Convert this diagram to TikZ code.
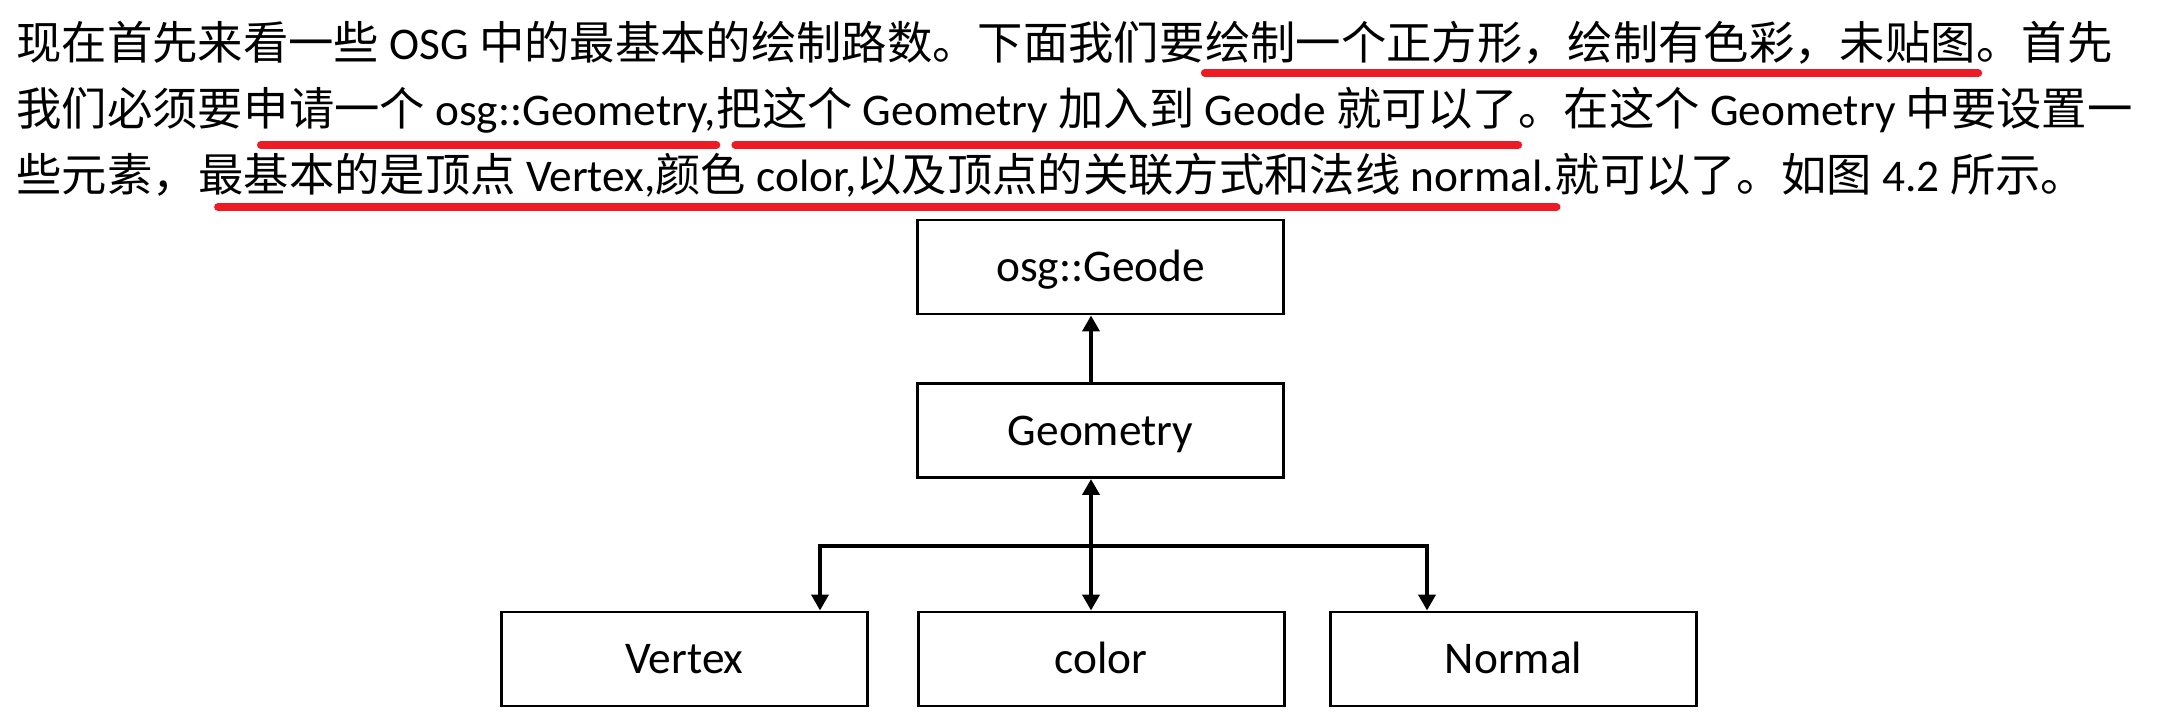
\documentclass[tikz,border=0pt]{standalone}
\usepackage{fontspec}
\setmainfont{Carlito}
\newfontfamily\cjk{Noto Sans CJK SC}
\usetikzlibrary{arrows.meta}
\definecolor{penred}{RGB}{237,28,36}
\newcommand{\bodysize}{\fontsize{25.8}{30}\selectfont}
\tikzset{
  textrow/.style={anchor=base west, inner sep=0pt, font=\bodysize},
  redline/.style={line width=4.5pt, penred, line cap=round},
  classbox/.style={draw, line width=1.7pt, minimum width=7.32cm, minimum height=1.88cm, inner sep=0pt, font=\bodysize, text height=16.6pt, text depth=0pt},
  relarrow/.style={line width=2.2pt, ->},
}
\begin{document}
\begin{tikzpicture}[>={Triangle[length=0.32cm,width=0.34cm]}]
    \useasboundingbox (0,0) rectangle (43.24,14.54);
    % text above the figure
    \node[textrow] (r1a) at (0.32,13.34) {{\cjk 现在首先来看一些} OSG {\cjk 中的最基本的绘制路数。下面我们要}};
    \node[textrow] (r1b) at (r1a.base east) {\cjk 绘制一个正方形，绘制有色彩，未贴图};
    \node[textrow] (r1c) at (r1b.base east) {\cjk 。首先};
    \node[textrow] (r2a) at (0.32,12.02) {\cjk 我们必须要};
    \node[textrow] (r2b) at (r2a.base east) {{\cjk 申请一个} osg::Geometry,};
    \node[textrow] (r2c) at (r2b.base east) {{\cjk 把这个} Geometry {\cjk 加入到} Geode {\cjk 就可以了}};
    \node[textrow] (r2d) at (r2c.base east) {{\cjk 。在这个} Geometry {\cjk 中要设置一}};
    \node[textrow] (r3a) at (0.32,10.70) {\cjk 些元素，};
    \node[textrow] (r3b) at (r3a.base east) {{\cjk 最基本的是顶点} Vertex,{\cjk 颜色} color,{\cjk 以及顶点的关联方式和法线} normal.};
    \node[textrow] (r3c) at (r3b.base east) {{\cjk 就可以了。如图} 4.2 {\cjk 所示。}};
    % red underlines
    \draw[redline] ([yshift=-0.26cm]r1b.base west) -- ([shift={(0.04,-0.26)}]r1b.base east);
    \draw[redline] ([shift={(0.35,-0.38)}]r2b.base west) -- ([yshift=-0.38cm]r2b.base east);
    \draw[redline] ([shift={(0.38,-0.38)}]r2c.base west) -- ([yshift=-0.38cm]r2c.base east);
    \draw[redline] ([shift={(0.4,-0.30)}]r3b.base west) -- ([shift={(0.04,-0.30)}]r3b.base east);
    % class boxes
    \node[classbox] (geode) at (22.01,9.20) {osg::Geode};
    \node[classbox] (geometry) at (22.01,5.93) {Geometry};
    \node[classbox] (vertex) at (13.69,1.36) {Vertex};
    \node[classbox] (color) at (22.02,1.36) {color};
    \node[classbox] (normal) at (30.27,1.36) {Normal};
    \coordinate (fork) at (21.82,3.62);
    \coordinate (vfork) at (16.40,3.62);
    \coordinate (nfork) at (28.54,3.62);
    \draw[relarrow] (geometry.north -| fork) -- (geode.south -| fork);
    \draw[relarrow, <->] (geometry.south -| fork) -- (color.north -| fork);
    \draw[relarrow] (fork) -- (vfork) -- (vertex.north -| vfork);
    \draw[relarrow] (fork) -- (nfork) -- (normal.north -| nfork);
\end{tikzpicture}
\end{document}
